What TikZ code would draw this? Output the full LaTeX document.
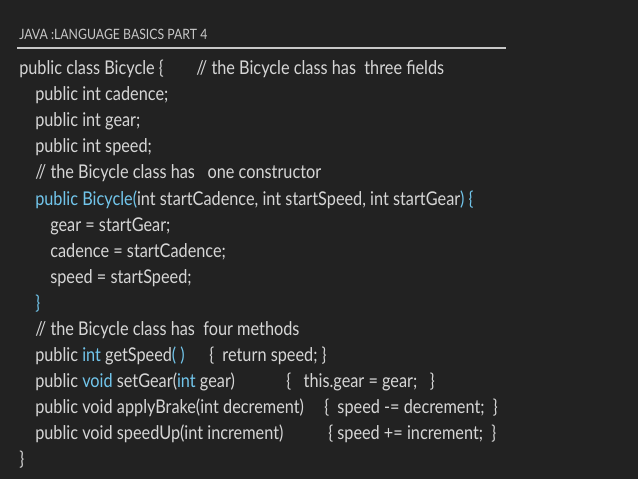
\documentclass[tikz,border=0pt]{standalone}
\usepackage{fontspec}
\setmainfont{Lato}[FakeStretch=0.86]
\definecolor{bg}{HTML}{222222}
\definecolor{fg}{HTML}{D6D6D6}
\definecolor{kw}{HTML}{72C6EC}
\definecolor{hd}{HTML}{C8C8C8}
\begin{document}
\begin{tikzpicture}[x=0.75pt,y=-0.75pt,
  code/.style={anchor=base west,inner sep=0pt,text=fg,font=\fontsize{14.2}{16}\selectfont},
  head/.style={anchor=base west,inner sep=0pt,text=hd,font=\fontsize{10.7}{12}\selectfont}]
\fill[bg] (0,0) rectangle (638,479);
\useasboundingbox (0,0) rectangle (638,479);
\node[head] (h) at (19,39) {JAVA :LANGUAGE BASICS PART 4};
\coordinate (r1) at (17,48); \coordinate (r2) at (506,48);
\draw[hd,line width=1.2pt] (r1) -- (r2);
\def\B{\textcolor{kw}}
\node[code] (l0) at (19,74) {public class Bicycle \{};
\node[code] (l0c) at (196,74) {// the Bicycle class has\ \ three fields};
\node[code] (l1) at (35,100) {public int cadence;};
\node[code] (l2) at (35,126) {public int gear;};
\node[code] (l3) at (35,152) {public int speed;};
\node[code] (l4) at (35,178) {// the Bicycle class has\ \ \ one constructor};
\node[code] (l5) at (35,205) {\B{public Bicycle(}int startCadence, int startSpeed, int startGear\B{) \{}};
\node[code] (l6) at (50,231) {gear = startGear;};
\node[code] (l7) at (50,257) {cadence = startCadence;};
\node[code] (l8) at (50,283) {speed = startSpeed;};
\node[code] (l9) at (35,309) {\B{\}}};
\node[code] (l10) at (35,335) {// the Bicycle class has\ \ four methods};
\node[code] (l11) at (35,361) {public \B{int} getSpeed\B{( )}};
\node[code] (l11b) at (209,361) {\{\ \ return speed; \}};
\node[code] (l12) at (35,387) {public \B{void} setGear(\B{int} gear)};
\node[code] (l12b) at (286,387) {\{\ \ \ this.gear = gear;\ \ \ \}};
\node[code] (l13) at (35,413) {public void applyBrake(int decrement)};
\node[code] (l13b) at (324,413) {\{\ \ speed -= decrement;\ \ \}};
\node[code] (l14) at (35,439) {public void speedUp(int increment)};
\node[code] (l14b) at (328,439) {\{ speed += increment;\ \ \}};
\node[code] (l15) at (19,465) {\}};
\end{tikzpicture}
\end{document}
